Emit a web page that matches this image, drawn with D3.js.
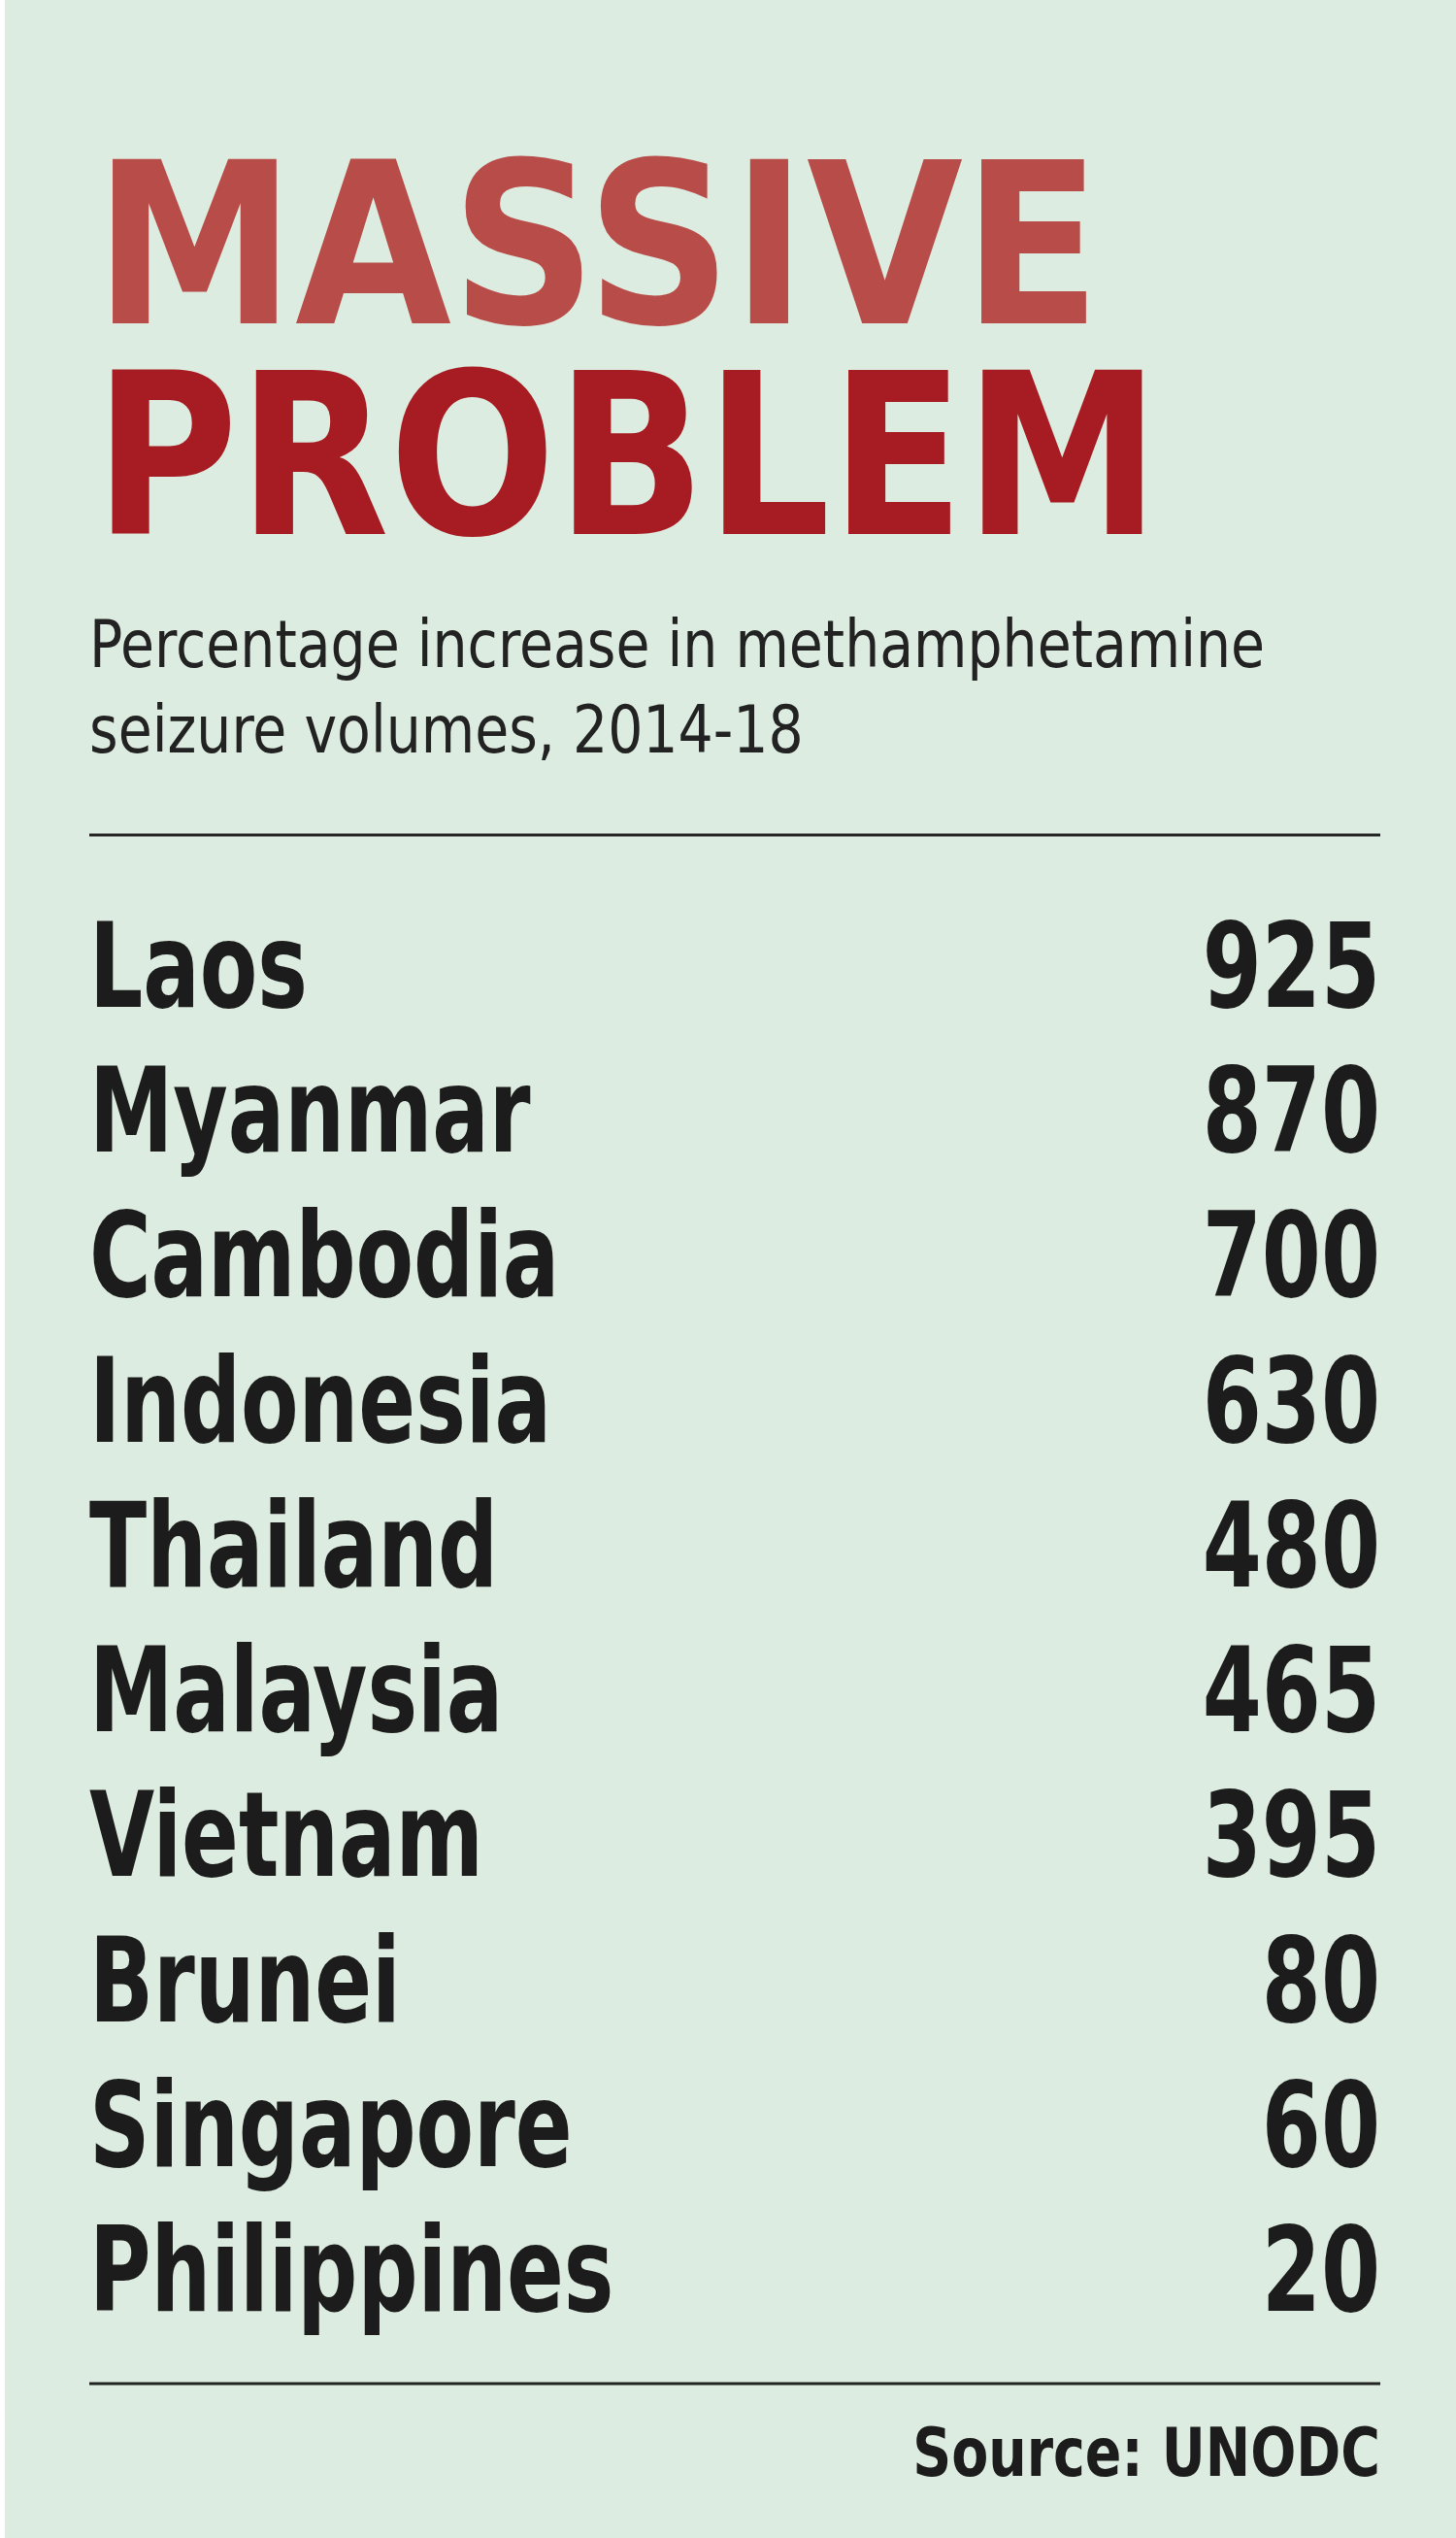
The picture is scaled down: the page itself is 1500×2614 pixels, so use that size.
<!DOCTYPE html>
<html>
<head>
<meta charset="utf-8">
<script src="https://cdn.jsdelivr.net/npm/d3@7"></script>
<style>
  body { margin: 0; background: #ffffff; }
  text { font-family: "Liberation Sans Narrow", "DejaVu Sans Condensed", "DejaVu Sans", sans-serif; }
</style>
</head>
<body>
<script>
"use strict";
// data
var countries = ["Laos", "Myanmar", "Cambodia", "Indonesia", "Thailand", "Malaysia", "Vietnam", "Brunei", "Singapore", "Philippines"];
var increases = [925, 870, 700, 630, 480, 465, 395, 80, 60, 20];
var titleLines = ["MASSIVE", "PROBLEM"];
var subtitleLines = ["Percentage increase in methamphetamine", "seizure volumes, 2014-18"];
var source = "Source: UNODC";

var W = 1500, H = 2614, left = 92, right = 1422;

var svg = d3.select("body").append("svg").attr("width", W).attr("height", H);
svg.append("rect").attr("x", 5).attr("y", 0).attr("width", W - 5).attr("height", H).attr("fill", "#ddece0");

// title
svg.append("text").attr("x", 97).attr("y", 333).text(titleLines[0])
  .attr("font-family", "Liberation Sans").attr("font-weight", "bold").attr("font-size", 232)
  .attr("textLength", 1037).attr("lengthAdjust", "spacingAndGlyphs").attr("fill", "#b84c49");
svg.append("text").attr("x", 97).attr("y", 550).text(titleLines[1])
  .attr("font-family", "Liberation Sans").attr("font-weight", "bold").attr("font-size", 232)
  .attr("textLength", 1098).attr("lengthAdjust", "spacingAndGlyphs").attr("fill", "#a61c22");

// subtitle
svg.selectAll(".sub").data(subtitleLines).join("text")
  .attr("transform", function(d, i) { return "translate(" + left + "," + (687 + i * 88) + ") scale(0.93,1)"; })
  .attr("font-size", 68).attr("fill", "#222").text(function(d) { return d; });

svg.append("line").attr("x1", left).attr("x2", right).attr("y1", 860).attr("y2", 860)
  .attr("stroke", "#222").attr("stroke-width", 3);

// rows
var y = d3.scalePoint().domain(countries).range([1037, 2380]);
var g = svg.append("g").attr("font-weight", "bold").attr("font-size", 122).attr("fill", "#1c1c1c");
g.selectAll(".name").data(countries).join("text")
  .attr("transform", function(d) { return "translate(" + left + "," + y(d) + ") scale(0.79,1)"; })
  .text(function(d) { return d; });
g.selectAll(".val").data(countries).join("text")
  .attr("transform", function(d) { return "translate(" + right + "," + y(d) + ") scale(0.8,1)"; })
  .attr("text-anchor", "end")
  .text(function(d, i) { return increases[i]; });

svg.append("line").attr("x1", left).attr("x2", right).attr("y1", 2455).attr("y2", 2455)
  .attr("stroke", "#222").attr("stroke-width", 3);
svg.append("text").attr("transform", "translate(" + right + ",2550) scale(0.88,1)").attr("text-anchor", "end")
  .attr("font-weight", "bold").attr("font-size", 70).attr("fill", "#1c1c1c").text(source);
</script>
</body>
</html>
